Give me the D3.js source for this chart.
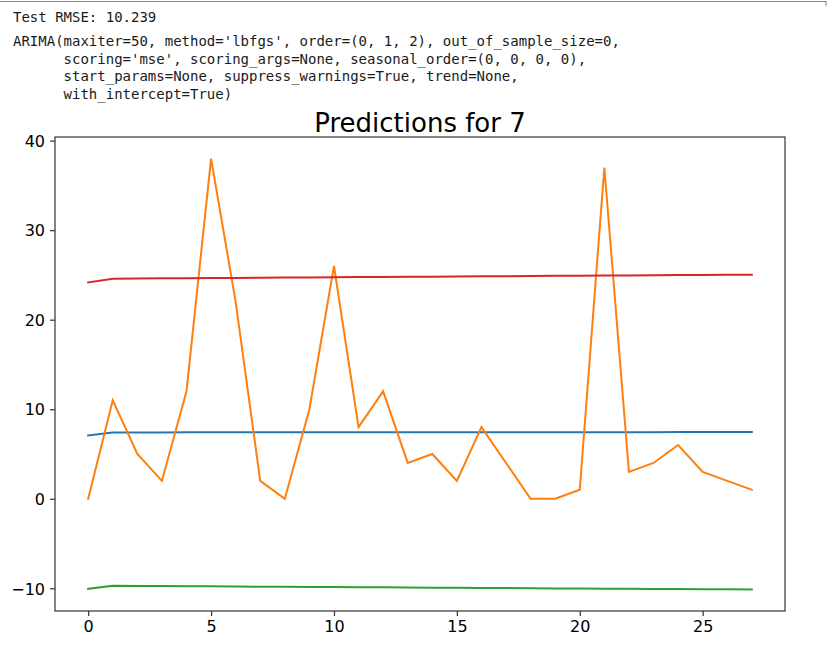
<!DOCTYPE html>
<html>
<head>
<meta charset="utf-8">
<script src="https://cdn.jsdelivr.net/npm/d3@7"></script>
<style>
  html, body { margin: 0; padding: 0; background: #fff; }
  svg { display: block; }
  .mono { font-family: "DejaVu Sans Mono", monospace; font-size: 14px; fill: #1a1a1a; white-space: pre; }
  .tick text { font-family: "DejaVu Sans", sans-serif; font-size: 16px; fill: #000; }
</style>
</head>
<body>
<svg id="chart" width="831" height="664"></svg>
<script>
// ---- data ----
const steps = [0,1,2,3,4,5,6,7,8,9,10,11,12,13,14,15,16,17,18,19,20,21,22,23,24,25,26,27];
const predicted = [7.07,7.41,7.41,7.41,7.42,7.42,7.42,7.42,7.42,7.42,7.42,7.43,7.43,7.43,7.43,7.43,7.43,7.44,7.44,7.44,7.44,7.44,7.44,7.44,7.45,7.45,7.45,7.45];
const actual = [0,11,5,2,12,38,22,2,0,10,26,8,12,4,5,2,8,4,0,0,1,37,3,4,6,3,2,1];
const lowerBound = [-10.06,-9.72,-9.74,-9.75,-9.77,-9.78,-9.80,-9.82,-9.83,-9.85,-9.86,-9.88,-9.89,-9.91,-9.93,-9.94,-9.96,-9.97,-9.99,-10.01,-10.02,-10.04,-10.05,-10.07,-10.08,-10.10,-10.12,-10.13];
const upperBound = [24.17,24.58,24.60,24.62,24.63,24.65,24.67,24.69,24.70,24.72,24.74,24.76,24.77,24.79,24.81,24.83,24.84,24.86,24.88,24.90,24.91,24.93,24.95,24.97,24.98,25.00,25.02,25.03];
const xTicks = [0,5,10,15,20,25];
const yTicks = [-10,0,10,20,30,40];
const title = "Predictions for 7";
const outputLines = [
  "Test RMSE: 10.239",
  "ARIMA(maxiter=50, method='lbfgs', order=(0, 1, 2), out_of_sample_size=0,",
  "      scoring='mse', scoring_args=None, seasonal_order=(0, 0, 0, 0),",
  "      start_params=None, suppress_warnings=True, trend=None,",
  "      with_intercept=True)"
];

// ---- drawing ----
const svg = d3.select("#chart");
const plot = { left: 55, right: 785, top: 137, bottom: 611 };

// cell border line at top
svg.append("line").attr("x1", 0).attr("x2", 826).attr("y1", 1.5).attr("y2", 1.5)
  .attr("stroke", "#4f8bd0").attr("stroke-width", 1);
svg.append("line").attr("x1", 826).attr("x2", 826).attr("y1", 1).attr("y2", 6)
  .attr("stroke", "#4f8bd0").attr("stroke-width", 1);

// text output
const baselines = [22, 46, 63.5, 81, 98.5];
svg.selectAll("text.mono").data(outputLines).join("text")
  .attr("class", "mono")
  .attr("x", 13)
  .attr("y", (d, i) => baselines[i])
  .attr("xml:space", "preserve")
  .text(d => d);

// scales (matplotlib 5% margins)
const xMin = d3.min(steps), xMax = d3.max(steps);
const xPad = (xMax - xMin) * 0.05;
const allY = actual.concat(predicted, lowerBound, upperBound);
const yMin = d3.min(allY), yMax = d3.max(allY);
const yPad = (yMax - yMin) * 0.05;
const x = d3.scaleLinear().domain([xMin - xPad, xMax + xPad]).range([plot.left, plot.right]);
const y = d3.scaleLinear().domain([yMin - yPad, yMax + yPad]).range([plot.bottom, plot.top]);

const fmt = d => d < 0 ? "\u2212" + Math.abs(d) : String(d);

// axes
const gx = svg.append("g").attr("transform", `translate(0,${plot.bottom})`)
  .call(d3.axisBottom(x).tickValues(xTicks).tickFormat(fmt).tickSize(5).tickPadding(5));
const gy = svg.append("g").attr("transform", `translate(${plot.left},0)`)
  .call(d3.axisLeft(y).tickValues(yTicks).tickFormat(fmt).tickSize(5).tickPadding(5));
[gx, gy].forEach(g => {
  g.select(".domain").remove();
  g.selectAll(".tick line").attr("stroke", "#333").attr("stroke-width", 1.2);
});
gy.selectAll(".tick text").attr("dy", "0.36em");

// lines
const line = vals => d3.line().x((d, i) => x(steps[i])).y(d => y(d))(vals);
const series = [
  { vals: predicted, color: "#1f77b4" },
  { vals: actual, color: "#ff7f0e" },
  { vals: lowerBound, color: "#2ca02c" },
  { vals: upperBound, color: "#d62728" }
];
svg.append("g").selectAll("path").data(series).join("path")
  .attr("d", d => line(d.vals))
  .attr("fill", "none")
  .attr("stroke", d => d.color)
  .attr("stroke-width", 2)
  .attr("stroke-linejoin", "miter")
  .attr("stroke-linecap", "square");

// frame
svg.append("rect")
  .attr("x", plot.left).attr("y", plot.top)
  .attr("width", plot.right - plot.left).attr("height", plot.bottom - plot.top)
  .attr("fill", "none").attr("stroke", "#333").attr("stroke-width", 1.2);

// title
svg.append("text")
  .attr("x", (plot.left + plot.right) / 2).attr("y", plot.top - 5)
  .attr("text-anchor", "middle")
  .style("font-family", "'DejaVu Sans', sans-serif")
  .style("font-size", "26px")
  .attr("fill", "#000")
  .text(title);
</script>
</body>
</html>
